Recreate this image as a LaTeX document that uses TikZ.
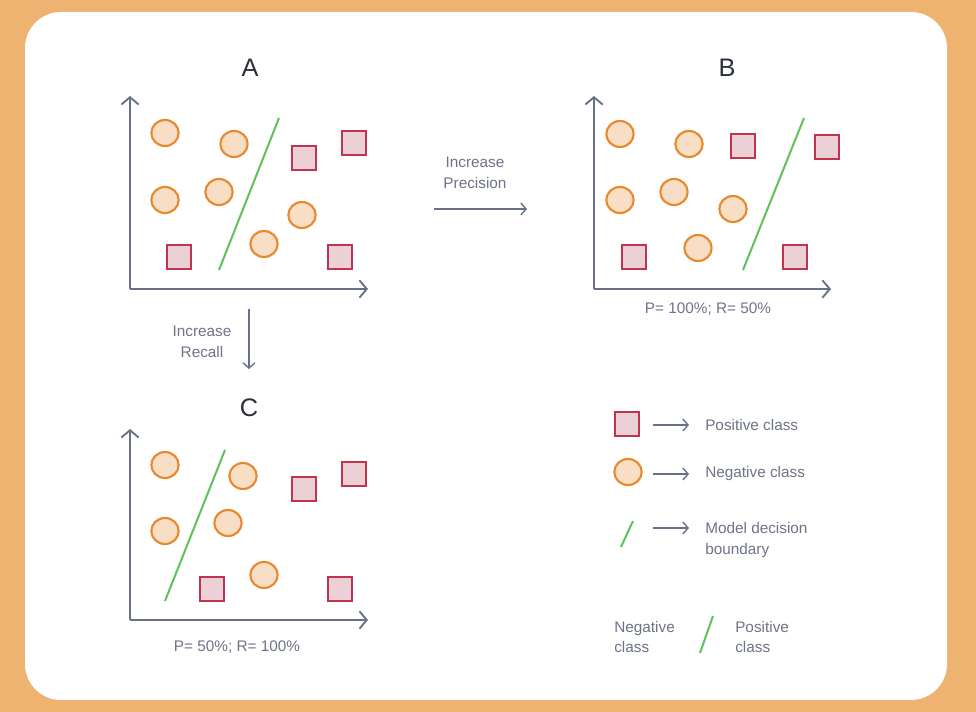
\documentclass[tikz,border=0pt]{standalone}
\usepackage{fontspec}
\setmainfont{Liberation Sans}
\usetikzlibrary{arrows.meta,shapes.geometric}
\definecolor{bgorange}{HTML}{EEB271}
\definecolor{axisgray}{HTML}{6B7089}
\definecolor{txtgray}{HTML}{6E7388}
\definecolor{titledark}{HTML}{2B2F3A}
\definecolor{negfill}{HTML}{F8DEC4}
\definecolor{negdraw}{HTML}{E8892E}
\definecolor{posfill}{HTML}{EBD0D6}
\definecolor{posdraw}{HTML}{C0344F}
\definecolor{bgreen}{HTML}{5DC25B}
\tikzset{
  negpt/.style={ellipse,draw=negdraw,fill=negfill,line width=1.6pt,minimum width=20.5pt,minimum height=19.5pt,inner sep=0pt},
  pospt/.style={rectangle,draw=posdraw,fill=posfill,line width=1.4pt,minimum size=17.5pt,inner sep=0pt},
  bound/.style={draw=bgreen,line width=1.5pt},
  axisline/.style={draw=axisgray,line width=1.5pt,-{Straight Barb[length=5.5pt,width=13pt,line width=1.4pt]}},
  flowarrow/.style={draw=axisgray,line width=1pt,-{Straight Barb[length=4pt,width=9pt,line width=1pt]}},
  title/.style={text=titledark,font=\fontsize{19}{22}\selectfont},
  lbl/.style={text=txtgray,font=\fontsize{11.5}{15.5}\selectfont,inner sep=0pt},
}
\begin{document}
\begin{tikzpicture}[x=0.75pt,y=-0.75pt]
\useasboundingbox (0,0) rectangle (976,712);
\fill[bgorange] (0,0) rectangle (976,712);
\fill[white,rounded corners=27pt] (25,12) rectangle (947,700);

% ---------- Panel A ----------
\node[title] (tA) at (250,68) {A};
\coordinate (Ao) at (130,289);
\coordinate (Ay) at (130,96);
\coordinate (Ax) at (368,289);
\draw[axisline] (Ao) -- (Ay);
\draw[axisline] (Ao) -- (Ax);
\node[negpt] (An1) at (165,133) {};
\node[negpt] (An2) at (234,144) {};
\node[negpt] (An3) at (165,200) {};
\node[negpt] (An4) at (219,192) {};
\node[negpt] (An5) at (302,215) {};
\node[negpt] (An6) at (264,244) {};
\node[pospt] (Ap1) at (304,158) {};
\node[pospt] (Ap2) at (354,143) {};
\node[pospt] (Ap3) at (179,257) {};
\node[pospt] (Ap4) at (340,257) {};
\coordinate (Ab1) at (279,118);
\coordinate (Ab2) at (219,270);
\draw[bound] (Ab1) -- (Ab2);

% ---------- Panel B ----------
\node[title] (tB) at (727,68) {B};
\coordinate (Bo) at (594,289);
\coordinate (By) at (594,96);
\coordinate (Bx) at (831,289);
\draw[axisline] (Bo) -- (By);
\draw[axisline] (Bo) -- (Bx);
\node[negpt] (Bn1) at (620,134) {};
\node[negpt] (Bn2) at (689,144) {};
\node[negpt] (Bn3) at (620,200) {};
\node[negpt] (Bn4) at (674,192) {};
\node[negpt] (Bn5) at (733,209) {};
\node[negpt] (Bn6) at (698,248) {};
\node[pospt] (Bp1) at (743,146) {};
\node[pospt] (Bp2) at (827,147) {};
\node[pospt] (Bp3) at (634,257) {};
\node[pospt] (Bp4) at (795,257) {};
\coordinate (Bb1) at (804,118);
\coordinate (Bb2) at (743,270);
\draw[bound] (Bb1) -- (Bb2);
\node[lbl] (Blab) at (708,309) {P= 100\%; R= 50\%};

% ---------- Panel C ----------
\node[title] (tC) at (249,408) {C};
\coordinate (Co) at (130,620);
\coordinate (Cy) at (130,429);
\coordinate (Cx) at (368,620);
\draw[axisline] (Co) -- (Cy);
\draw[axisline] (Co) -- (Cx);
\node[negpt] (Cn1) at (165,465) {};
\node[negpt] (Cn2) at (243,476) {};
\node[negpt] (Cn3) at (165,531) {};
\node[negpt] (Cn4) at (228,523) {};
\node[negpt] (Cn5) at (264,575) {};
\node[pospt] (Cp1) at (304,489) {};
\node[pospt] (Cp2) at (354,474) {};
\node[pospt] (Cp3) at (212,589) {};
\node[pospt] (Cp4) at (340,589) {};
\coordinate (Cb1) at (225,450);
\coordinate (Cb2) at (165,601);
\draw[bound] (Cb1) -- (Cb2);
\node[lbl] (Clab) at (237,647) {P= 50\%; R= 100\%};

% ---------- Transitions ----------
\node[lbl,align=center] (incP) at (475,173) {Increase\\Precision};
\coordinate (pa1) at (434,209);
\coordinate (pa2) at (527,209);
\draw[flowarrow] (pa1) -- (pa2);
\node[lbl,align=center] (incR) at (202,342) {Increase\\Recall};
\coordinate (ra1) at (249,309);
\coordinate (ra2) at (249,369);
\draw[flowarrow] (ra1) -- (ra2);

% ---------- Legend ----------
\node[pospt] (Lp) at (627,424) {};
\coordinate (La1s) at (653,425);
\coordinate (La1e) at (689,425);
\draw[flowarrow] (La1s) -- (La1e);
\node[lbl,anchor=west] (Ltp) at (705,425) {Positive class};
\node[negpt] (Ln) at (628,472) {};
\coordinate (La2s) at (653,474);
\coordinate (La2e) at (689,474);
\draw[flowarrow] (La2s) -- (La2e);
\node[lbl,anchor=west] (Ltn) at (705,474) {Negative class};
\coordinate (Lb1) at (633,521);
\coordinate (Lb2) at (621,547);
\draw[bound] (Lb1) -- (Lb2);
\coordinate (La3s) at (653,528);
\coordinate (La3e) at (689,528);
\draw[flowarrow] (La3s) -- (La3e);
\node[lbl,anchor=west,align=left] (Ltb) at (705,540) {Model decision\\boundary};

\node[lbl,anchor=west,align=left] (Lneg) at (614,637) {Negative\\class};
\coordinate (Lg1) at (713,616);
\coordinate (Lg2) at (700,653);
\draw[bound] (Lg1) -- (Lg2);
\node[lbl,anchor=west,align=left] (Lpos) at (735,637) {Positive\\class};
\end{tikzpicture}
\end{document}
